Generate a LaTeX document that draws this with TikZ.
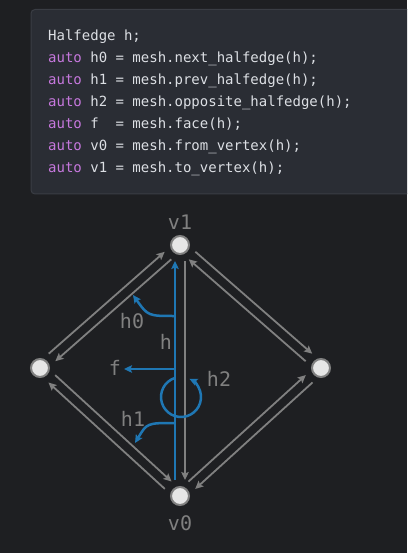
\documentclass[tikz,border=0pt]{standalone}
\usepackage{fontspec}
\setmonofont{DejaVu Sans Mono}
\usetikzlibrary{arrows.meta,calc}

\definecolor{pagebg}{HTML}{1E1F22}
\definecolor{codebg}{HTML}{2A2D34}
\definecolor{codeframe}{HTML}{3A3D44}
\definecolor{codetext}{HTML}{DCDFE4}
\definecolor{keyword}{HTML}{C678DD}
\definecolor{heblue}{HTML}{1F77B4}
\definecolor{hegray}{HTML}{808080}
\definecolor{vfill}{HTML}{E6E6E6}

% one halfedge from #2 to #3, kept on the left of its direction
\newcommand\halfedge[3][]{\draw[halfedge,#1] ($(#2)!16pt!(#3)!5pt!90:(#3)$) -- ($(#3)!16pt!(#2)!5pt!-90:(#2)$);}

\begin{document}
\begin{tikzpicture}[x=1pt,y=-1pt,>={Stealth[length=8pt,width=7.5pt,inset=1.5pt]},
  vertex/.style={circle,draw=hegray,fill=vfill,line width=2pt,minimum size=18pt,inner sep=0pt},
  halfedge/.style={->,draw=hegray,line width=1.8pt},
  bluearrow/.style={->,draw=heblue,line width=2.5pt},
  helabel/.style={anchor=base,font=\ttfamily\fontsize{20}{24}\selectfont,text=hegray,inner sep=0pt},
  codeline/.style={anchor=base west,font=\ttfamily\fontsize{14}{22}\selectfont,text=codetext,inner sep=0pt}]
  \useasboundingbox (0,0) rectangle (407,553);
  \fill[pagebg] (0,0) rectangle (407,553);
  % code block, open on the right
  \fill[codebg] (407,9.5) [rounded corners=4pt] -- (31,9.5) -- (31,194) [sharp corners] -- (407,194) -- cycle;
  \draw[codeframe,line width=1pt] (407,9.5) [rounded corners=4pt] -- (31,9.5) -- (31,194) -- (407,194);
  \node[codeline] (c0) at (48,40.7) {Halfedge h;};
  \foreach \i/\txt in {1/h0 = mesh.next\_halfedge(h);,
                       2/h1 = mesh.prev\_halfedge(h);,
                       3/h2 = mesh.opposite\_halfedge(h);,
                       4/f~~= mesh.face(h);,
                       5/v0 = mesh.from\_vertex(h);,
                       6/v1 = mesh.to\_vertex(h);}
    \node[codeline] (c\i) at (48,{40.7+22*\i}) {\textcolor{keyword}{auto} \txt};
  % mesh
  \node[vertex] (v1) at (180,245) {};
  \node[vertex] (v0) at (180,496) {};
  \node[vertex] (vl) at (40,368) {};
  \node[vertex] (vr) at (321,368) {};
  \foreach \a/\b in {v1/v0,vl/v1,v1/vl,vl/v0,v0/vl,v1/vr,vr/v1,v0/vr,vr/v0}
    \halfedge{\a}{\b};
  \halfedge[draw=heblue,line width=2.5pt]{v0}{v1}
  % neighbours of h
  \coordinate (h0s) at (175,316);
  \coordinate (h0e) at (133,295);
  \coordinate (fs) at (175,369);
  \coordinate (fe) at (124,369);
  \coordinate (h2c) at (181,397);
  \coordinate (h1s) at (175,423);
  \coordinate (h1e) at (135,443);
  \draw[bluearrow] (h0s) .. controls (148,316) .. (h0e);
  \draw[bluearrow] (fs) -- (fe);
  \draw[bluearrow] ($(h2c)+(-107:20)$) arc[start angle=-107,end angle=-425,radius=20];
  \draw[bluearrow] (h1s) .. controls (147,423) .. (h1e);
  % labels
  \node[helabel] (v1lbl) at (180,229) {v1};
  \node[helabel] (v0lbl) at (180,530) {v0};
  \node[helabel] (h0lbl) at (132,328) {h0};
  \node[helabel] (hlbl) at (166,349) {h};
  \node[helabel] (flbl) at (115,375) {f};
  \node[helabel] (h2lbl) at (219,386) {h2};
  \node[helabel] (h1lbl) at (133,426.5) {h1};
\end{tikzpicture}
\end{document}
